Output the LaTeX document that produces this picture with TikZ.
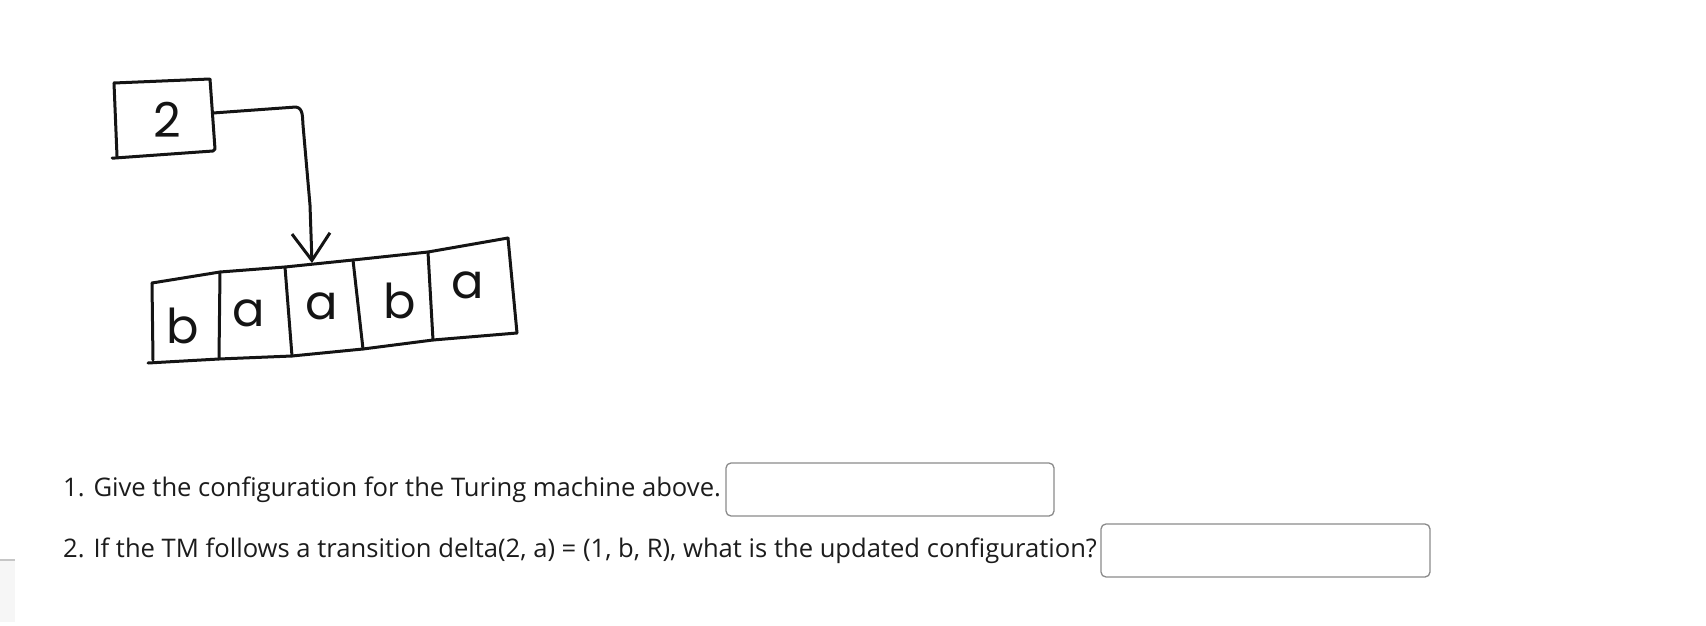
\documentclass[tikz,border=0pt]{standalone}
\usepackage{fontspec}
\setmainfont{Open Sans}
\newfontfamily\handfont{Poppins}
\usepackage{xcolor}
\usetikzlibrary{arrows.meta}

\definecolor{inkblack}{HTML}{141414}
\definecolor{textdark}{HTML}{1C1C1C}
\definecolor{boxgrey}{HTML}{8A8A8A}
\definecolor{panelfill}{HTML}{F6F6F6}
\definecolor{panelline}{HTML}{C6C6C6}

\begin{document}
\begin{tikzpicture}[x=1pt, y=-1pt,
    ink/.style={draw=inkblack, line width=3pt, line cap=round, line join=round},
    cellsym/.style={inner sep=0pt, text=inkblack, font=\handfont\fontsize{48}{48}\selectfont},
    question/.style={anchor=base west, inner sep=0pt, text=textdark, font=\fontsize{25.6}{30}\selectfont},
    answerbox/.style={draw=boxgrey, line width=1.3pt, rounded corners=5pt}]
    \useasboundingbox (0,0) rectangle (1706,626);

    % State box
    \draw[ink] (114,83) -- (210,79) -- (215,149) -- (213,151) -- (115,158) -- (112,158);
    \draw[ink] (114,83) -- (117,156);
    \node[cellsym] (state) at (167,120) {2};

    % Tape corners
    \coordinate (t0) at (152,283);
    \coordinate (t1) at (220,272);
    \coordinate (t2) at (285,267);
    \coordinate (t3) at (353,260);
    \coordinate (t4) at (428,252);
    \coordinate (t5) at (508,238);
    \coordinate (b0) at (153,360);
    \coordinate (b1) at (219,359);
    \coordinate (b2) at (292,356);
    \coordinate (b3) at (363,349);
    \coordinate (b4) at (433,340);
    \coordinate (b5) at (517,333);

    % Tape lines
    \draw[ink] (t0) -- (t1) -- (t2) -- (t3) -- (t4) -- (t5);
    \draw[ink] (148,363) -- (b1) -- (b2) -- (b3) -- (b4) -- (b5);
    \draw[ink] (t0) -- (b0);
    \draw[ink] (t1) -- (b1);
    \draw[ink] (t2) -- (b2);
    \draw[ink] (t3) -- (b3);
    \draw[ink] (t4) -- (b4);
    \draw[ink] (t5) -- (b5);

    % Tape symbols
    \node[cellsym] (c1) at (183,326) {b};
    \node[cellsym] (c2) at (249,313) {a};
    \node[cellsym] (c3) at (322,306) {a};
    \node[cellsym] (c4) at (400,301) {b};
    \node[cellsym] (c5) at (468,285) {a};

    % Head
    \coordinate (headstart) at (213,113);
    \coordinate (headtip) at (312,263);
    \draw[ink, -{Straight Barb[length=27pt, width=38pt, line width=3pt]}]
        (headstart) -- (296,107) to[out=-10, in=95] (303,125) -- (310,205) -- (headtip);

    % Questions
    \node[question] (q1) at (63,496) {1. Give the configuration for the Turing machine above.};
    \draw[answerbox] (726,463) rectangle (1054,516);
    \node[question] (q2) at (63,557) {2. If the TM follows a transition delta(2, a) = (1, b, R), what is the updated configuration?};
    \draw[answerbox] (1101,524) rectangle (1430,577);

    % Side panel
    \fill[panelfill] (0,560) rectangle (15,622);
    \draw[panelline, line width=1.5pt] (0,560) -- (15,560);
\end{tikzpicture}
\end{document}
